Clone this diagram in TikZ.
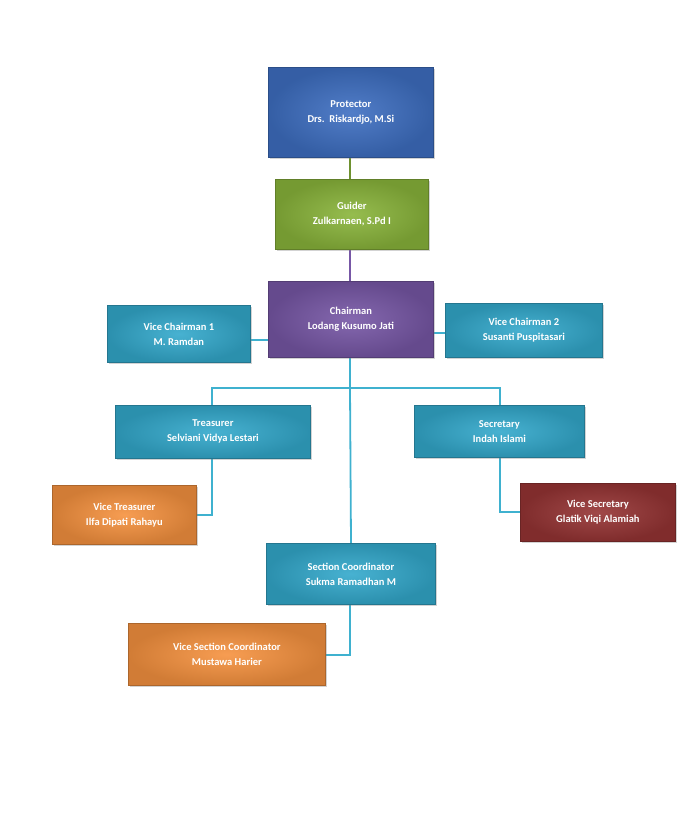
\documentclass[tikz,border=0pt]{standalone}
\usepackage{fontspec}
\setmainfont{Carlito}
\usetikzlibrary{shadows}
\definecolor{cblue}{HTML}{3E6FC2}
\definecolor{cgreen}{HTML}{8AB53B}
\definecolor{cpurple}{HTML}{7757A6}
\definecolor{cteal}{HTML}{33A9CC}
\definecolor{corange}{HTML}{F6923F}
\definecolor{cred}{HTML}{963434}
\definecolor{lteal}{HTML}{3FB1CF}
\tikzset{
  box/.style={draw=#1!70!black, line width=0.8pt, inner color=#1!90!white, outer color=#1!85!black,
    text=white, font=\bfseries\fontsize{10.5pt}{15pt}\selectfont, align=center, anchor=north west,
    drop shadow={shadow xshift=1.5pt, shadow yshift=-1.5pt, opacity=0.35}},
  conn/.style={lteal, line width=1.8pt}
}
\begin{document}
\begin{tikzpicture}[x=1pt,y=-1pt]
\useasboundingbox (0,0) rectangle (700,829);
\newcommand{\bx}[7]{\node[box=#6, minimum width=#4pt-#2pt, minimum height=#5pt-#3pt] (#1) at (#2,#3) {#7};}
% connectors first
\draw[cgreen!80!black, line width=1.8pt] (350,157) -- (350,179);
\draw[cpurple, line width=1.8pt] (350,249) -- (350,281);
\draw[conn] (250,340) -- (268,340);
\draw[conn] (433,333) -- (445,333);
\draw[conn] (350,357) -- (350,388) (212,405) -- (212,388) -- (500,388) -- (500,405);
\draw[conn] (350,388) -- (351,543);
\draw[conn] (212,458) -- (212,515) -- (196,515);
\draw[conn] (500,457) -- (500,512) -- (520,512);
\draw[conn] (350,604) -- (350,655) -- (325,655);
\bx{prot}{268}{67}{433}{157}{cblue}{Protector\\Drs.\ \ Riskardjo, M.Si}
\bx{guid}{275}{179}{428}{249}{cgreen}{Guider\\Zulkarnaen, S.Pd I}
\bx{chair}{268}{281}{433}{357}{cpurple}{Chairman\\Lodang Kusumo Jati}
\bx{vc1}{107}{305}{250}{362}{cteal}{Vice Chairman 1\\M. Ramdan}
\bx{vc2}{445}{303}{602}{357}{cteal}{Vice Chairman 2\\Susanti Puspitasari}
\bx{tre}{115}{405}{310}{458}{cteal}{Treasurer\\Selviani Vidya Lestari}
\bx{sec}{414}{405}{584}{457}{cteal}{Secretary\\Indah Islami}
\bx{vtre}{52}{485}{196}{544}{corange}{Vice Treasurer\\Ilfa Dipati Rahayu}
\bx{vsec}{520}{483}{675}{541}{cred}{Vice Secretary\\Glatik Viqi Alamiah}
\bx{sc}{266}{543}{435}{604}{cteal}{Section Coordinator\\Sukma Ramadhan M}
\bx{vsc}{128}{623}{325}{685}{corange}{Vice Section Coordinator\\Mustawa Harier}
\end{tikzpicture}
\end{document}
